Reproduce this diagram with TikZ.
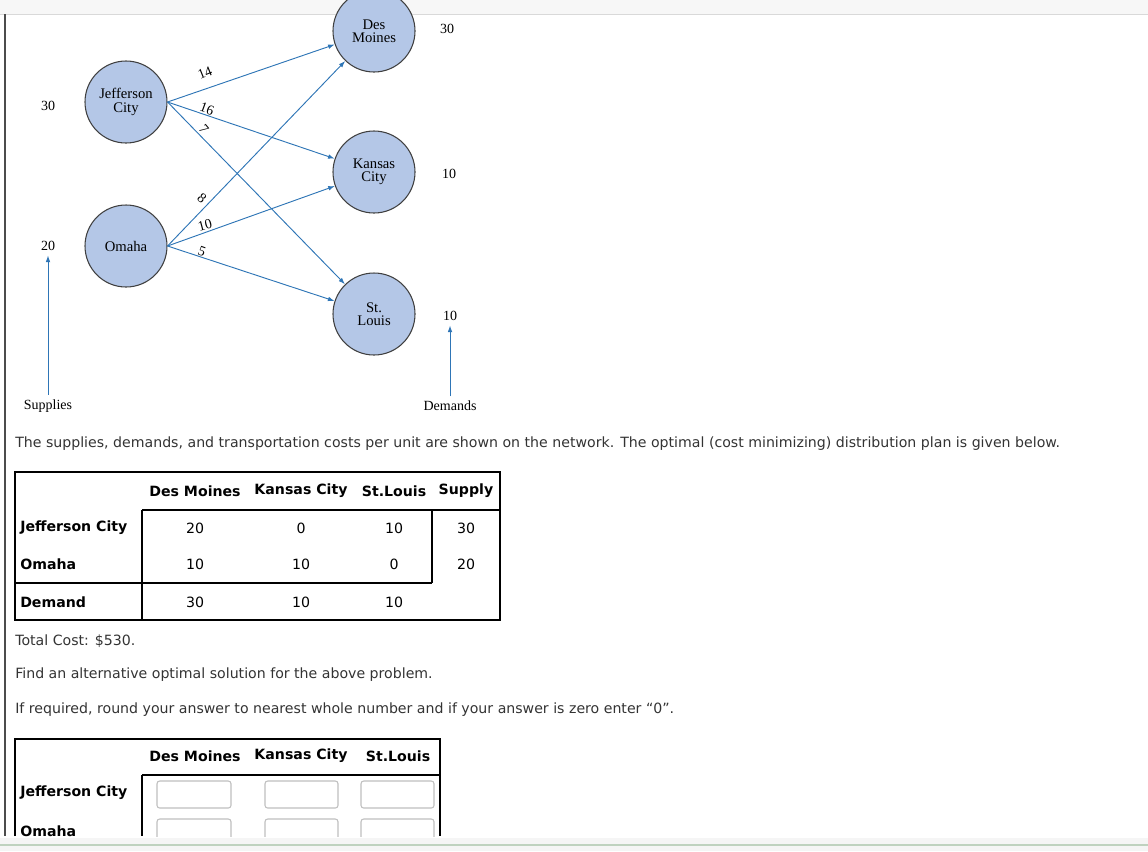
\documentclass[tikz,border=0pt]{standalone}
\usepackage{fontspec}
\usetikzlibrary{arrows.meta}
\setmainfont{DejaVu Sans}
\newfontfamily\tms{Liberation Serif}
\begin{document}
\begin{tikzpicture}[x=0.75pt,y=-0.75pt,
  city/.style={circle,draw=black!75,line width=0.8pt,fill=nodeblue,minimum size=61.5pt,inner sep=0pt,font=\tms\fontsize{11}{10}\selectfont,align=center},
  edge/.style={draw=arrowblue,line width=0.7pt,-{Latex[length=5pt,width=3.5pt]}},
  lab/.style={font=\tms\fontsize{10.5}{12}\selectfont},
  web/.style={font=\fontsize{10.6}{13}\selectfont,text=black!80,anchor=west,inner sep=0pt},
  hd/.style={font=\bfseries\fontsize{10.6}{13}\selectfont,inner sep=0pt},
  cell/.style={font=\fontsize{10.6}{13}\selectfont,inner sep=0pt},
  inbox/.style={draw=black!25,rounded corners=2pt,line width=0.8pt,fill=white}]
\definecolor{nodeblue}{HTML}{B4C7E7}
\definecolor{arrowblue}{HTML}{2E75B6}
\useasboundingbox (0,0) rectangle (1148,851);
\fill[black!3] (0,0) rectangle (1148,14);
\draw[black!15] (0,14.5) -- (1148,14.5);
\draw[black!70,line width=0.8pt] (5,14) -- (5,836);
\fill[black!4] (0,838) rectangle (1148,851);
\draw[green!30!black!25,line width=1pt] (0,845) -- (1148,845);
% network
\node[city] (jc) at (126,102) {Jefferson\\City};
\node[city] (om) at (126,246) {Omaha};
\node[city] (dm) at (374,31) {Des\\Moines};
\node[city] (kc) at (374,172) {Kansas\\City};
\node[city] (sl) at (374,314) {St.\\Louis};
\draw[edge] (jc.east) -- (dm);
\draw[edge] (jc.east) -- (kc);
\draw[edge] (jc.east) -- (sl);
\draw[edge] (om.east) -- (dm);
\draw[edge] (om.east) -- (kc);
\draw[edge] (om.east) -- (sl);
\node[lab,rotate=22] (l14) at (205,73) {14};
\node[lab,rotate=-20] (l16) at (207,109) {16};
\node[lab,rotate=-50] (l7) at (204,129) {7};
\node[lab,rotate=-40] (l8) at (202,198) {8};
\node[lab,rotate=15] (l10) at (205,225) {10};
\node[lab,rotate=-20] (l5) at (202,251) {5};
\node[lab] (s30) at (48,106) {30};
\node[lab] (s20) at (48,246) {20};
\node[lab] (d30) at (447,29) {30};
\node[lab] (d10a) at (449,174) {10};
\node[lab] (d10b) at (450,316) {10};
\node[lab] (sup) at (48,406) {Supplies};
\node[lab] (dem) at (450,406) {Demands};
\draw[edge] (sup.north) -- (s20.south);
\draw[edge] (dem.north) -- (d10b.south);
% text
\node[web] (p1) at (15,444) {The supplies, demands, and transportation costs per unit are shown on the network. The optimal (cost minimizing) distribution plan is given below.};
% table 1
\draw[black,line width=0.8pt] (15,472) rectangle (500,620);
\draw[black,line width=0.8pt] (142,510) -- (500,510);
\draw[black,line width=0.8pt] (142,510) -- (142,620);
\draw[black,line width=0.8pt] (432,510) -- (432,583);
\draw[black,line width=0.8pt] (15,583) -- (432,583);
\node[hd] (h1) at (195,491) {Des Moines};
\node[hd] (h2) at (301,491) {Kansas City};
\node[hd] (h3) at (394,491) {St.Louis};
\node[hd] (h4) at (466,491) {Supply};
\node[hd,anchor=west] (r1) at (20,528) {Jefferson City};
\node[hd,anchor=west] (r2) at (20,564) {Omaha};
\node[hd,anchor=west] (r3) at (20,602) {Demand};
\node[cell] (c11) at (195,528) {20};
\node[cell] (c12) at (301,528) {0};
\node[cell] (c13) at (394,528) {10};
\node[cell] (c14) at (466,528) {30};
\node[cell] (c21) at (195,564) {10};
\node[cell] (c22) at (301,564) {10};
\node[cell] (c23) at (394,564) {0};
\node[cell] (c24) at (466,564) {20};
\node[cell] (c31) at (195,602) {30};
\node[cell] (c32) at (301,602) {10};
\node[cell] (c33) at (394,602) {10};
\node[web] (t1) at (15,641) {Total Cost: \$530.};
\node[web] (t2) at (15,675) {Find an alternative optimal solution for the above problem.};
\node[web] (t3) at (15,710) {If required, round your answer to nearest whole number and if your answer is zero enter “0”.};
% table 2
\draw[black,line width=0.8pt] (15,836) -- (15,739) -- (440,739) -- (440,836);
\draw[black,line width=0.8pt] (142,775) -- (440,775);
\draw[black,line width=0.8pt] (142,775) -- (142,836);
\node[hd] (g1) at (195,756) {Des Moines};
\node[hd] (g2) at (301,756) {Kansas City};
\node[hd] (g3) at (398,756) {St.Louis};
\node[hd,anchor=west] (q1) at (20,793) {Jefferson City};
\node[hd,anchor=west] (q2) at (20,831) {Omaha};
\draw[inbox] (157,781) rectangle (231,808);
\draw[inbox] (265,781) rectangle (338,808);
\draw[inbox] (361,781) rectangle (434,808);
\begin{scope}
\clip (0,810) rectangle (1148,836);
\draw[inbox] (157,819) rectangle (231,846);
\draw[inbox] (265,819) rectangle (338,846);
\draw[inbox] (361,819) rectangle (434,846);
\end{scope}
\end{tikzpicture}
\end{document}
